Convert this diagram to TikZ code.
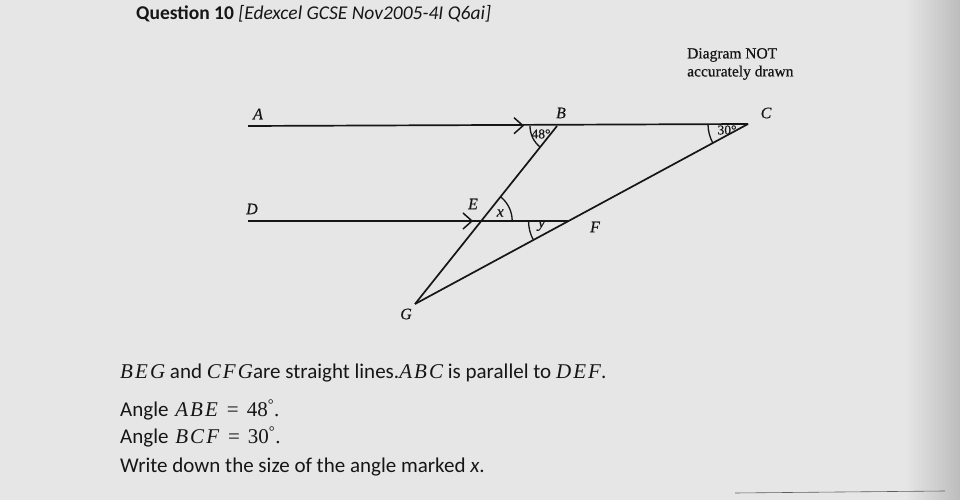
\documentclass[tikz,border=0pt]{standalone}
\usepackage{fontspec}
\setmainfont{Carlito}
\newfontfamily\serifft{Liberation Serif}
\newfontfamily\serifmath[LetterSpace=10]{Liberation Serif}
\newfontfamily\serifbold[FakeBold=0.6]{Liberation Serif}
\newfontfamily\seriflab[FakeBold=0.4]{Liberation Serif}
\usetikzlibrary{angles,calc,intersections}
\newcommand{\mv}[1]{{\serifmath\itshape #1}}
\newcommand{\mn}[1]{{\serifft #1}}
\definecolor{paper}{RGB}{230,230,231}
\definecolor{ink}{RGB}{22,22,22}
\tikzset{
  geo/.style={draw=ink, line width=1.7pt},
  arcmark/.style={draw=ink, line width=1.3pt},
  chev/.style={draw=ink, line width=1.5pt},
  ptlabel/.style={font=\fontsize{16}{18}\seriflab\itshape, text=ink, inner sep=0pt},
  anglab/.style={font=\fontsize{13.5}{14}\seriflab, text=ink, inner sep=0pt},
  body/.style={font=\fontsize{21}{24}\selectfont, text=ink, anchor=west, inner sep=0pt},
}
\begin{document}
\begin{tikzpicture}[x=1pt,y=1pt]
\fill[paper] (0,0) rectangle (960,500);
\shade[left color=paper, right color=paper!82!black] (905,0) rectangle (960,500);
\useasboundingbox (0,0) rectangle (960,500);

% title
\node[anchor=west, inner sep=0pt, text=ink, font=\fontsize{19.5}{22}\selectfont] (title) at (136,486)
  {\textbf{Question 10} \textit{[Edexcel GCSE Nov2005-4I Q6ai]}};

\node[anchor=west, inner sep=0pt, text=ink, align=left, font=\fontsize{15.5}{18}\serifbold] (note) at (687,436)
  {Diagram NOT\\accurately drawn};

% points
\coordinate (A) at (248,374);
\coordinate (B) at (557,374);
\coordinate (C) at (748,376);
\coordinate (D) at (248,279);
\coordinate (G) at (415,196);
\path[name path=bg] (B) -- (G);
\path[name path=cg] (C) -- (G);
\path[name path=de] (D) -- (700,279);
\path[name intersections={of=bg and de, by=E}];
\path[name intersections={of=cg and de, by=F}];

% lines
\draw[geo] (A) -- (C);
\draw[geo] (D) -- (F);
\draw[geo] (B) -- (G);
\draw[geo] (C) -- (G);

% parallel arrows
\coordinate (m1) at (523,374.3);
\coordinate (m2) at (472,279);
\draw[chev] ($(m1)+(-9,8)$) -- (m1) -- ($(m1)+(-9,-8)$);
\draw[chev] ($(m2)+(-9,8)$) -- (m2) -- ($(m2)+(-9,-8)$);

% angle arcs
\pic[arcmark, angle radius=27pt] {angle = A--B--G};
\pic[arcmark, angle radius=40pt] {angle = B--C--G};
\pic[arcmark, angle radius=31pt] {angle = F--E--B};
\pic[arcmark, angle radius=40pt] {angle = E--F--G};

% labels
\node[ptlabel] (lA) at (258,386) {A};
\node[ptlabel] (lB) at (561,387) {B};
\node[ptlabel] (lC) at (766,387) {C};
\node[ptlabel] (lD) at (252,291) {D};
\node[ptlabel] (lE) at (473,296) {E};
\node[ptlabel] (lF) at (595,273) {F};
\node[ptlabel] (lG) at (406,186) {G};
\node[anglab] (a48) at ($(B)+(-16,-8)$) {48°};
\node[anglab] (a30) at ($(C)+(-21,-6)$) {30°};
\node[ptlabel] (lx) at ($(E)+(19,8)$) {x};
\node[ptlabel] (ly) at ($(F)+(-27,-4.5)$) {y};

% question text
\node[body] (t1) at (120,127) {\mv{BEG} and \mv{CFG}are straight lines.\mv{ABC} is parallel to \mv{DEF}.};
\node[body] (t2) at (120,90) {Angle\hspace{2pt} \mv{ABE}\hspace{9pt}\mn{=}\hspace{8pt}\mn{48\textsuperscript{°}.}};
\node[body] (t3) at (120,63) {Angle\hspace{2pt} \mv{BCF}\hspace{9pt}\mn{=}\hspace{8pt}\mn{30\textsuperscript{°}.}};
\node[body] (t4) at (120,33) {Write down the size of the angle marked \textit{x}.};

% answer line
\draw[draw=ink!70, line width=0.6pt] (735,7) -- (945,9);
\end{tikzpicture}
\end{document}
